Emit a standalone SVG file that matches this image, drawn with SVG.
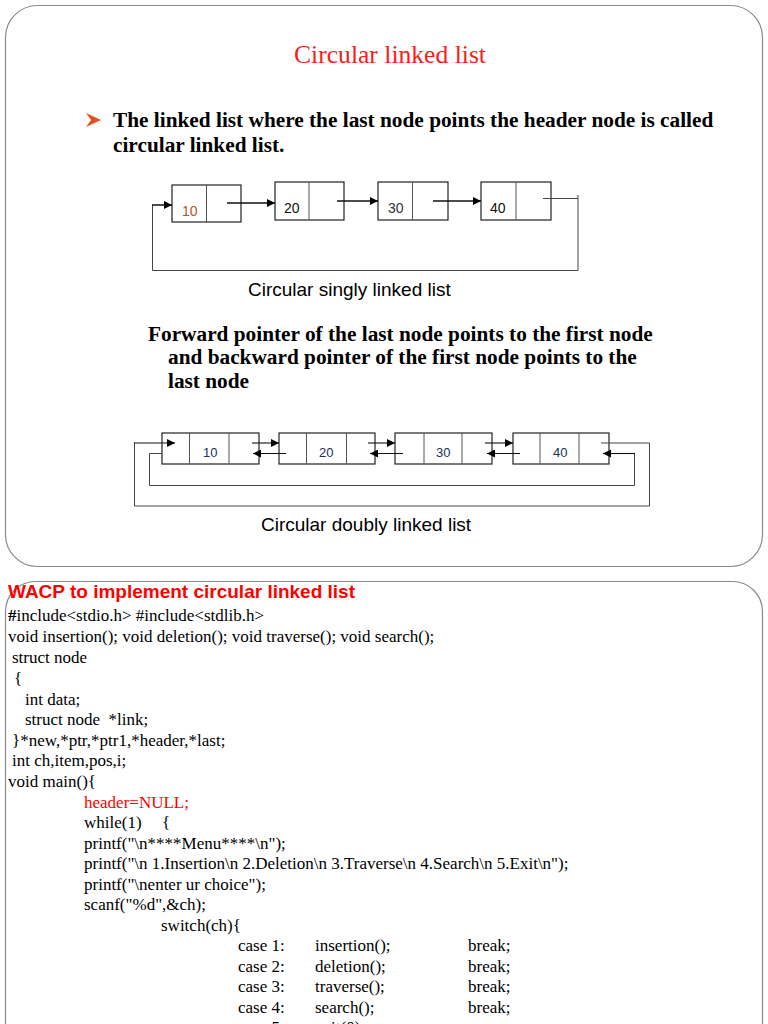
<svg xmlns="http://www.w3.org/2000/svg" width="768" height="1024" viewBox="0 0 768 1024">
<defs>
<marker id="ah" viewBox="0 0 10 10" refX="10" refY="5" markerWidth="9" markerHeight="8" markerUnits="userSpaceOnUse" orient="auto">
<path d="M0,0 L10,5 L0,10 z" fill="#000"/>
</marker>
</defs>
<style>
.panel{fill:#fff;stroke:#8a8a8a;stroke-width:1.2}
.box{fill:#fff;stroke:#222;stroke-width:1.2}
.div{stroke:#555;stroke-width:1}
.ln{fill:none;stroke:#222;stroke-width:1.3}
.ln2{fill:none;stroke:#444;stroke-width:1}
.arr{fill:none;stroke:#111;stroke-width:1.5;marker-end:url(#ah)}
.arr2{fill:none;stroke:#111;stroke-width:1.1;marker-end:url(#ah)}
.title{font-family:"Liberation Serif",serif;font-size:25.6px;fill:#ff1a1a}
.bold{font-family:"Liberation Serif",serif;font-size:21.3px;font-weight:bold;fill:#000}
.cap{font-family:"Liberation Sans",Arial,sans-serif;font-size:19px;fill:#000}
.v1{font-family:"Liberation Sans",Arial,sans-serif;font-size:14px}
.v2{font-family:"Liberation Sans",Arial,sans-serif;font-size:13px;fill:#1a2f5a}
.code{font-family:"Liberation Serif",serif;font-size:17px;fill:#000}
.red{fill:#ff0000}
.head{font-family:"Liberation Sans",Arial,sans-serif;font-size:19px;font-weight:bold;fill:#ff0000}
</style>
<rect width="768" height="1024" fill="#fff"/>
<rect class="panel" x="5.5" y="5.5" width="757" height="561" rx="32" ry="32"/>
<path class="panel" d="M5.5,1030 L5.5,612 A30,30 0 0 1 35.5,581.5 L732.5,581.5 A30,30 0 0 1 762.5,612 L762.5,1030"/>

<text class="title" x="390" y="63" text-anchor="middle">Circular linked list</text>
<path d="M86,113 L101,120 L86,127 L91,120 z" fill="#e2521d"/>
<text class="bold" x="113" y="127">The linked list where the last node points the header node is called</text>
<text class="bold" x="113" y="152">circular linked list.</text>

<g id="s-node-10"><rect class="box" x="172" y="185" width="69" height="37"/><line class="div" x1="206.5" y1="185" x2="206.5" y2="222"/><text class="v1" x="182" y="216" fill="#b5541c">10</text></g>
<g id="s-node-20"><rect class="box" x="275" y="182" width="69" height="38"/><line class="div" x1="309" y1="182" x2="309" y2="220"/><text class="v1" x="284" y="213" fill="#111">20</text></g>
<g id="s-node-30"><rect class="box" x="378" y="182" width="70" height="38"/><line class="div" x1="412.5" y1="182" x2="412.5" y2="220"/><text class="v1" x="388" y="213" fill="#333">30</text></g>
<g id="s-node-40"><rect class="box" x="481" y="182" width="70" height="38"/><line class="div" x1="516" y1="182" x2="516" y2="220"/><text class="v1" x="490" y="213" fill="#111">40</text></g>
<g id="s-connectors">
<line class="arr" x1="227" y1="203" x2="275" y2="203"/>
<line class="arr" x1="337" y1="201" x2="378" y2="201"/>
<line class="arr" x1="433" y1="201" x2="481" y2="201"/>
<path class="ln2" d="M543,198.5 L578,198.5 M578,195 L578,270.5 L152.5,270.5 L152.5,205"/>
<line class="arr" x1="152" y1="205" x2="172" y2="205"/>
</g>
<text class="cap" x="248" y="296">Circular singly linked list</text>

<text class="bold" x="148" y="341">Forward pointer of the last node points to the first node</text>
<text class="bold" x="168" y="364">and backward pointer of the first node points to the</text>
<text class="bold" x="168" y="388">last node</text>

<g id="d-node-10"><rect class="box" x="162" y="433" width="97" height="31"/><line class="div" x1="189.5" y1="433" x2="189.5" y2="464"/><line class="div" x1="229" y1="433" x2="229" y2="464"/><text class="v2" x="203" y="457">10</text></g>
<g id="d-node-20"><rect class="box" x="279" y="433" width="96" height="31"/><line class="div" x1="306.5" y1="433" x2="306.5" y2="464"/><line class="div" x1="346.5" y1="433" x2="346.5" y2="464"/><text class="v2" x="319" y="457">20</text></g>
<g id="d-node-30"><rect class="box" x="395" y="433" width="97" height="31"/><line class="div" x1="424" y1="433" x2="424" y2="464"/><line class="div" x1="462" y1="433" x2="462" y2="464"/><text class="v2" x="436" y="457">30</text></g>
<g id="d-node-40"><rect class="box" x="513" y="433" width="96" height="31"/><line class="div" x1="540" y1="433" x2="540" y2="464"/><line class="div" x1="579" y1="433" x2="579" y2="464"/><text class="v2" x="553" y="457">40</text></g>
<g id="d-connectors">
<line class="arr2" x1="252" y1="443" x2="279" y2="443"/>
<line class="arr2" x1="286" y1="453.5" x2="253" y2="453.5"/>
<line class="arr2" x1="368" y1="443" x2="395" y2="443"/>
<line class="arr2" x1="403" y1="453.5" x2="370" y2="453.5"/>
<line class="arr2" x1="485" y1="443" x2="513" y2="443"/>
<line class="arr2" x1="520" y1="453.5" x2="487" y2="453.5"/>
<path class="ln2" d="M601,443 L649.5,443 L649.5,506 L134.5,506 L134.5,442.5"/>
<line class="arr2" x1="134" y1="443" x2="175" y2="443"/>
<path class="ln2" d="M162,453.5 L149.5,453.5 L149.5,485.5 L634.5,485.5 L634.5,453.5"/>
<line class="arr2" x1="635" y1="453.5" x2="603" y2="453.5"/>
</g>
<text class="cap" x="261" y="531">Circular doubly linked list</text>

<text class="head" x="8" y="598">WACP to implement circular linked list</text>
<g class="code">
<text x="8" y="621"><tspan font-weight="bold">#</tspan>include&lt;stdio.h&gt; #include&lt;stdlib.h&gt;</text>
<text x="8" y="642">void insertion(); void deletion(); void traverse(); void search();</text>
<text x="12" y="663">struct node</text>
<text x="14" y="684">{</text>
<text x="25" y="705">int data;</text>
<text x="25" y="725" xml:space="preserve">struct node  *link;</text>
<text x="12" y="746">}*new,*ptr,*ptr1,*header,*last;</text>
<text x="12" y="766">int ch,item,pos,i;</text>
<text x="8" y="787">void main(){</text>
<text x="84" y="808" class="red">header=NULL;</text>
<text x="84" y="828">while(1)</text>
<text x="162" y="828">{</text>
<text x="84" y="849">printf("\n****Menu****\n");</text>
<text x="84" y="869">printf("\n 1.Insertion\n 2.Deletion\n 3.Traverse\n 4.Search\n 5.Exit\n");</text>
<text x="84" y="890">printf("\nenter ur choice");</text>
<text x="84" y="910">scanf("%d",&amp;ch);</text>
<text x="161" y="931">switch(ch){</text>
<text x="238" y="951">case 1:</text><text x="315" y="951">insertion();</text><text x="468" y="951">break;</text>
<text x="238" y="972">case 2:</text><text x="315" y="972">deletion();</text><text x="468" y="972">break;</text>
<text x="238" y="992">case 3:</text><text x="315" y="992">traverse();</text><text x="468" y="992">break;</text>
<text x="238" y="1013">case 4:</text><text x="315" y="1013">search();</text><text x="468" y="1013">break;</text>
<text x="238" y="1033">case 5:</text><text x="315" y="1033">exit(0);</text>
</g>
</svg>
